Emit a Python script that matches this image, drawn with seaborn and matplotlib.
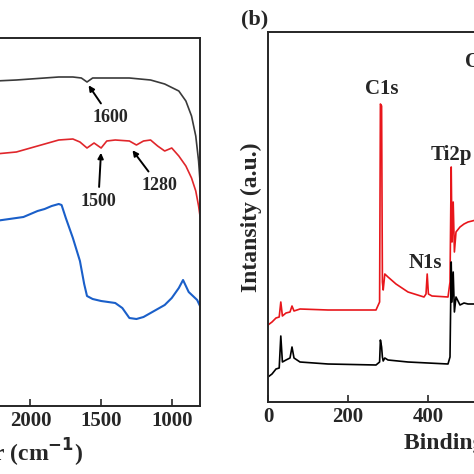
import matplotlib
matplotlib.use("Agg")
import matplotlib.pyplot as plt
import seaborn as sns

sns.set_style("ticks")
plt.rcParams['font.family'] = ['Liberation Serif', 'DejaVu Serif']
plt.rcParams['font.weight'] = 'bold'

# (a) FTIR, wavenumber (cm-1) vs intensity (a.u.)
wn_black = [2250, 2100, 2000, 1900, 1800, 1700, 1640, 1600, 1560, 1450, 1300, 1150, 1050, 950, 900, 860, 830, 810, 800]
ir_black = [325, 326, 327, 328, 329, 329, 328, 324, 328, 328, 328, 326, 322, 315, 305, 290, 270, 245, 225]
wn_red = [2250, 2100, 2000, 1900, 1800, 1700, 1650, 1600, 1550, 1500, 1460, 1400, 1300, 1250, 1200, 1150, 1100, 1050, 1000, 950, 900, 860, 830, 810, 800]
ir_red = [252, 254, 258, 262, 266, 267, 264, 258, 263, 258, 265, 266, 265, 261, 265, 266, 260, 255, 258, 250, 240, 228, 215, 200, 190]
wn_blue = [2250, 2150, 2050, 2000, 1950, 1900, 1850, 1800, 1780, 1750, 1700, 1650, 1620, 1600, 1560, 1500, 1450, 1400, 1350, 1300, 1250, 1200, 1150, 1100, 1050, 1000, 950, 920, 880, 850, 820, 800]
ir_blue = [185, 187, 189, 192, 195, 197, 200, 202, 201, 188, 168, 145, 122, 110, 107, 105, 104, 103, 98, 88, 87, 89, 93, 97, 101, 108, 118, 126, 114, 110, 106, 100]

# (b) XPS survey, binding energy (eV) vs intensity (a.u.)
be_red = [0, 10, 20, 28, 32, 36, 45, 55, 60, 65, 80, 150, 270, 279, 281, 284, 286, 288, 292, 300, 320, 350, 390, 395, 398, 401, 410, 450, 455, 458, 460, 463, 466, 470, 480, 490, 500, 520, 560]
xps_red = [77, 80, 84, 85, 100, 86, 89, 90, 96, 91, 93, 92, 92, 100, 298, 296, 120, 112, 128, 125, 118, 110, 105, 108, 128, 108, 106, 105, 120, 235, 160, 200, 150, 170, 175, 178, 180, 182, 184]
be_blk = [0, 10, 20, 28, 32, 36, 45, 55, 60, 65, 80, 150, 270, 279, 281, 284, 286, 288, 292, 300, 350, 450, 455, 458, 460, 463, 466, 470, 480, 490, 500, 520, 560]
xps_blk = [25, 28, 33, 34, 66, 40, 42, 44, 55, 44, 40, 38, 37, 40, 62, 55, 45, 41, 44, 42, 40, 38, 45, 140, 100, 130, 90, 105, 97, 99, 98, 98, 98]

fig = plt.figure(figsize=(4.74, 4.74), dpi=100)
px = lambda v: v / 474.0

ax1 = fig.add_axes([px(-252), px(68), px(452), px(368)])
ax1.set_xlim(4000, 800)
ax1.set_ylim(0, 368)
sns.lineplot(x=wn_black, y=ir_black, color="#3a3a3a", lw=1.2, ax=ax1, sort=False)
sns.lineplot(x=wn_red, y=ir_red, color="#e0262b", lw=1.2, ax=ax1, sort=False)
sns.lineplot(x=wn_blue, y=ir_blue, color="#1a5fc9", lw=1.5, ax=ax1, sort=False)
ax1.set_xticks([3500, 3000, 2500, 2000, 1500, 1000])
ax1.set_yticks([])
ax1.tick_params(axis='x', direction='in', labelsize=15, width=1.2, length=5)
ax1.set_xlabel("Wavenumber (cm$^{-1}$)", fontsize=17, fontweight='bold')
for s in ax1.spines.values():
    s.set_linewidth(1.4)
kw = dict(fontsize=13, fontweight='bold', arrowprops=dict(arrowstyle='-|>', color='k', lw=1.4, mutation_scale=8))
ax1.annotate("1600", xy=(1600, 323), xytext=(1560, 284), ha='left', **kw)
ax1.annotate("1500", xy=(1500, 256), xytext=(1520, 200), ha='center', **kw)
ax1.annotate("1280", xy=(1290, 258), xytext=(1090, 216), ha='center', **kw)

ax2 = fig.add_axes([px(268), px(72), px(480), px(370)])
ax2.set_xlim(0, 1200)
ax2.set_ylim(0, 370)
sns.lineplot(x=be_red, y=xps_red, color="#e8161b", lw=1.2, ax=ax2, sort=False)
sns.lineplot(x=be_blk, y=xps_blk, color="black", lw=1.2, ax=ax2, sort=False)
ax2.set_xticks([0, 200, 400, 600, 800, 1000, 1200])
ax2.set_yticks([])
ax2.tick_params(axis='x', direction='in', labelsize=15, width=1.2, length=5)
ax2.set_ylabel("Intansity (a.u.)", fontsize=17, fontweight='bold', labelpad=4)
ax2.set_xlabel("Binding Energy (eV)", fontsize=17, fontweight='bold')
for s in ax2.spines.values():
    s.set_linewidth(1.4)
ax2.text(284, 308, "C1s", ha='center', fontsize=15, fontweight='bold')
ax2.text(393, 134, "N1s", ha='center', fontsize=15, fontweight='bold')
ax2.text(458, 242, "Ti2p", ha='center', fontsize=15, fontweight='bold')
ax2.text(535, 335, "O1s", ha='center', fontsize=15, fontweight='bold')
fig.text(px(241), 1 - px(24), "(b)", fontsize=16, fontweight='bold')

fig.savefig("out.png", dpi=100)
